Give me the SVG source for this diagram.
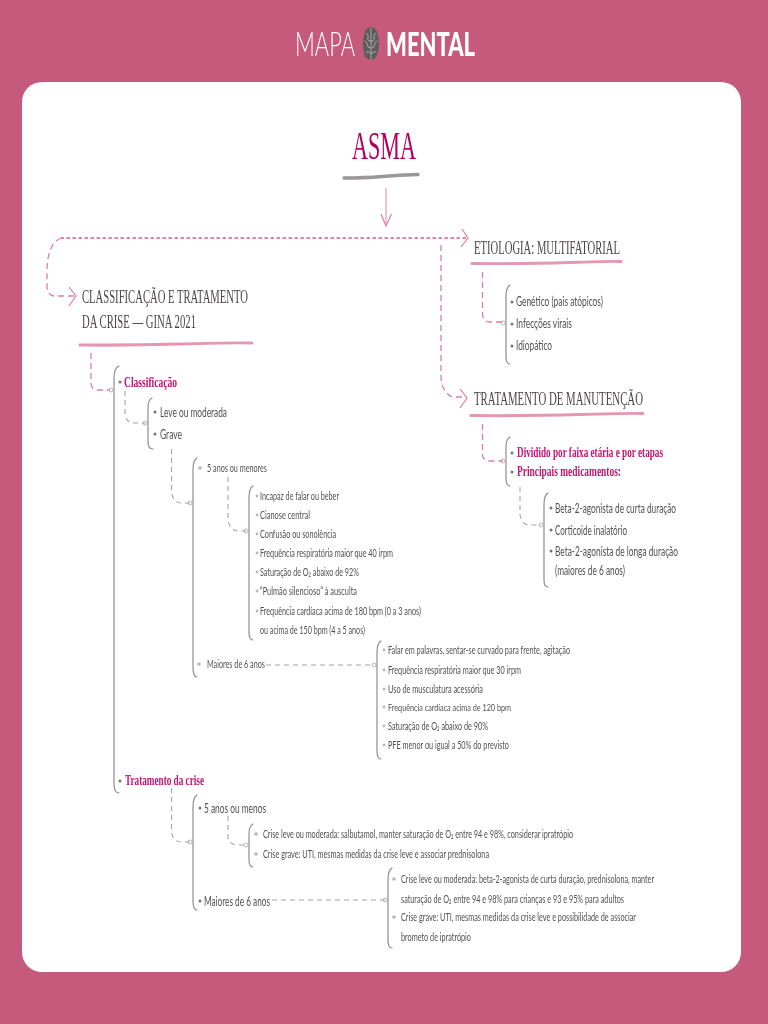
<svg xmlns="http://www.w3.org/2000/svg" width="768" height="1024" viewBox="0 0 768 1024">
<style>
.h{font-family:"Liberation Serif","DejaVu Serif",serif;font-size:19.5px;fill:#4a4646}
.t{font-family:Lato,"Liberation Sans",sans-serif;fill:#525050}
.m{font-size:13.5px}
.s{font-size:12px}
.p{font-family:"Liberation Serif","DejaVu Serif",serif;font-weight:bold;fill:#c4146f;font-size:15px}
.br{fill:none;stroke:#8f8c8d;stroke-width:1.2;stroke-linecap:round}
.kn{fill:none;stroke:#a8a5a6;stroke-width:.8}
.dg{fill:none;stroke:#a6a3a4;stroke-width:1.1;stroke-dasharray:5 4}
.dp{fill:none;stroke:#dc7f9f;stroke-width:1.3;stroke-dasharray:6 4}
.dt{fill:none;stroke:#d65f8b;stroke-width:1.7;stroke-dasharray:3.5 2.5}
.hd{fill:none;stroke:#dc7f9f;stroke-width:1.2;stroke-linejoin:miter}
.ul{fill:none;stroke:#e596b1;stroke-width:3;stroke-linecap:round}
.b{fill:#777375}
.o{fill:#b9b6b7}
</style>
<defs><filter id="soft" x="-5%" y="-5%" width="110%" height="110%"><feGaussianBlur stdDeviation="0.35"/></filter></defs>
<rect width="768" height="1024" fill="#c55a7c"/>
<rect x="22" y="82" width="719" height="890" rx="20" fill="#ffffff"/>
<g filter="url(#soft)">
<g id="logo">
<text x="295" y="56" font-family="Lato,'Liberation Sans',sans-serif" font-size="33" font-weight="300" fill="#fff" textLength="60" lengthAdjust="spacingAndGlyphs">MAPA</text>
<path d="M371 27Q377 28 378 35Q380 44 378 52Q376 60 371 60Q365 60 364 53Q362 44 364 35Q365 28 371 27Z" fill="#5f5b5d"/>
<path d="M371 28V60M366 33q3 2 2 5t3 3M376 33q-3 2-2 5t-3 3M364.500 41q3 1 3 4t3 3M377.500 41q-3 1-3 4t-3 3M366 52q3-1 5 2M376 52q-3-1-5 2" fill="none" stroke="#bdbabb" stroke-width=".8"/>
<text x="386" y="56" font-family="Lato,'Liberation Sans',sans-serif" font-size="33" font-weight="900" fill="#fff" textLength="89" lengthAdjust="spacingAndGlyphs">MENTAL</text>
</g>
<g id="asma">
<text x="352" y="158.500" font-family="'Liberation Serif',serif" font-size="41" fill="#b3005f" textLength="64" lengthAdjust="spacingAndGlyphs">ASMA</text>
<path d="M344 178Q365 178 382 176.500T418 174.500" fill="none" stroke="#9a9799" stroke-width="3.400" stroke-linecap="round"/>
</g>
<g id="connectors">
<path d="M386 188V225" fill="none" stroke="#e08aa8" stroke-width="1"/>
<path d="M381 214L386 226L391.500 214" class="hd"/>
<path d="M466 238H61" class="dt"/>
<path d="M61 238Q47 244 47 272V286Q47 295 54 296H75" class="dp"/>
<path d="M69 287L76 296L69 306" class="hd"/>
<path d="M462 229L468 238L461 247" class="hd"/>
<path d="M441 245V378Q442 392 452 397H466" class="dp"/>
<path d="M460 389L467 398L460 408" class="hd"/>
<path d="M91 353V384Q92 390 98 390H110" class="dp"/>
<path d="M482.500 272V314Q483 322 490 322H503" class="dp"/>
<path d="M482.500 424V455Q483 461 490 461H503" class="dp"/>
<path d="M520 487V515Q522 525 530 525H541" class="dg"/>
<path d="M125 391V415Q127 423 134 423H145" class="dg"/>
<path d="M171.500 449V492Q173 503 181 503H190" class="dg"/>
<path d="M228 477V520Q230 531 238 531H246" class="dg"/>
<path d="M266 665H374" class="dg"/>
<path d="M171.500 788V832Q173 842 181 842H190" class="dg"/>
<path d="M228 816V838Q230 845 238 845H246" class="dg"/>
<path d="M272 900H385" class="dg"/>
</g>
<g id="node-classificacao-tratamento">
<text class="h" x="82" y="302.500" textLength="166" lengthAdjust="spacingAndGlyphs">CLASSIFICAÇÃO E TRATAMENTO</text>
<text class="h" x="82" y="327.500" textLength="114" lengthAdjust="spacingAndGlyphs">DA CRISE — GINA 2021</text>
<path class="ul" d="M80 345Q130 345.500 180 344T252 343"/>
</g>
<g id="node-classificacao-grupo">
<path class="br" d="M119 366Q114 368 114 378V783Q114 793 119 793"/><circle class="kn" cx="111" cy="390" r="2"/>
<circle class="b" cx="120" cy="382" r="1.500"/>
<text class="p" x="124" y="387" textLength="53" lengthAdjust="spacingAndGlyphs">Classificação</text>
<circle class="b" cx="120" cy="781" r="1.500"/>
<text class="p" x="125" y="785" textLength="79" lengthAdjust="spacingAndGlyphs">Tratamento da crise</text>
</g>
<g id="node-gravidade">
<path class="br" d="M152 398Q148 400 148 408V442Q148 449 153 449"/><circle class="kn" cx="145" cy="423" r="2"/>
<circle class="b" cx="155" cy="412" r="1.500"/><circle class="b" cx="155" cy="434" r="1.500"/>
<text class="t m" x="160" y="417" textLength="67" lengthAdjust="spacingAndGlyphs">Leve ou moderada</text>
<text class="t m" x="160" y="439" textLength="22" lengthAdjust="spacingAndGlyphs">Grave</text>
</g>
<g id="node-idade-classificacao">
<path class="br" d="M197 458Q193 460 193 470V667Q193 677 197 677"/><circle class="kn" cx="190" cy="503" r="2"/>
<circle class="o" cx="200" cy="468" r="1.800"/><circle class="o" cx="199" cy="664" r="1.800"/>
<text class="t s" x="207" y="472" textLength="60" lengthAdjust="spacingAndGlyphs">5 anos ou menores</text>
<text class="t s" x="207" y="668" textLength="58" lengthAdjust="spacingAndGlyphs">Maiores de 6 anos</text>
</g>
<g id="node-sinais-menores">
<path class="br" d="M253 486Q249 488 249 498V632Q249 640 253 640"/><circle class="kn" cx="246" cy="531" r="2"/>
<g class="o"><circle cx="257" cy="496" r="1.400"/><circle cx="257" cy="515" r="1.400"/><circle cx="257" cy="534" r="1.400"/><circle cx="257" cy="553" r="1.400"/><circle cx="257" cy="572" r="1.400"/><circle cx="257" cy="591" r="1.400"/><circle cx="257" cy="611" r="1.400"/></g>
<text class="t s" x="260" y="500" textLength="79" lengthAdjust="spacingAndGlyphs">Incapaz de falar ou beber</text>
<text class="t s" x="260" y="519" textLength="50" lengthAdjust="spacingAndGlyphs">Cianose central</text>
<text class="t s" x="260" y="538" textLength="76" lengthAdjust="spacingAndGlyphs">Confusão ou sonolência</text>
<text class="t s" x="260" y="557" textLength="133" lengthAdjust="spacingAndGlyphs">Frequência respiratória maior que 40 irpm</text>
<text class="t s" x="260" y="576" textLength="99" lengthAdjust="spacingAndGlyphs">Saturação de O₂ abaixo de 92%</text>
<text class="t s" x="260" y="595" textLength="97" lengthAdjust="spacingAndGlyphs">“Pulmão silencioso” à ausculta</text>
<text class="t s" x="260" y="615" textLength="161" lengthAdjust="spacingAndGlyphs">Frequência cardíaca acima de 180 bpm (0 a 3 anos)</text>
<text class="t s" x="260" y="634" textLength="105" lengthAdjust="spacingAndGlyphs">ou acima de 150 bpm (4 a 5 anos)</text>
</g>
<g id="node-sinais-maiores">
<path class="br" d="M381 641Q377 643 377 653V751Q377 759 381 759"/><circle class="kn" cx="374" cy="665" r="2"/>
<g class="o"><circle cx="384" cy="650" r="1.400"/><circle cx="384" cy="670" r="1.400"/><circle cx="384" cy="689" r="1.400"/><circle cx="384" cy="707" r="1.400"/><circle cx="384" cy="726" r="1.400"/><circle cx="384" cy="745" r="1.400"/></g>
<text class="t s" transform="translate(388 654) scale(.72 1)" textLength="252.800" lengthAdjust="spacingAndGlyphs">Falar em palavras, sentar-se curvado para frente, agitação</text>
<text class="t s" x="388" y="674" textLength="133" lengthAdjust="spacingAndGlyphs">Frequência respiratória maior que 30 irpm</text>
<text class="t s" x="388" y="693" textLength="95" lengthAdjust="spacingAndGlyphs">Uso de musculatura acessória</text>
<text class="t" font-size="10" x="388" y="710.500" textLength="123" lengthAdjust="spacingAndGlyphs">Frequência cardíaca acima de 120 bpm</text>
<text class="t s" x="388" y="730" textLength="100" lengthAdjust="spacingAndGlyphs">Saturação de O₂ abaixo de 90%</text>
<text class="t s" x="388" y="749" textLength="121" lengthAdjust="spacingAndGlyphs">PFE menor ou igual a 50% do previsto</text>
</g>
<g id="node-tratamento-idade">
<path class="br" d="M197 795Q193 797 193 807V901Q193 910 197 910"/><circle class="kn" cx="190" cy="842" r="2"/>
<circle class="b" cx="200" cy="808" r="1.500"/><circle class="b" cx="200" cy="901" r="1.500"/>
<text class="t m" x="204" y="813" textLength="62" lengthAdjust="spacingAndGlyphs">5 anos ou menos</text>
<text class="t m" x="204" y="906" textLength="66" lengthAdjust="spacingAndGlyphs">Maiores de 6 anos</text>
</g>
<g id="node-tratamento-menores">
<path class="br" d="M253 824Q249 826 249 834V860Q249 867 253 867"/><circle class="kn" cx="246" cy="845" r="2"/>
<circle class="o" cx="256" cy="834" r="1.800"/><circle class="o" cx="256" cy="854" r="1.800"/>
<text class="t s" transform="translate(263 838) scale(.72 1)" textLength="430.600" lengthAdjust="spacingAndGlyphs">Crise leve ou moderada: salbutamol, manter saturação de O₂ entre 94 e 98%, considerar ipratrópio</text>
<text class="t s" transform="translate(263 858) scale(.72 1)" textLength="313.900" lengthAdjust="spacingAndGlyphs">Crise grave: UTI, mesmas medidas da crise leve e associar prednisolona</text>
</g>
<g id="node-tratamento-maiores">
<path class="br" d="M392 868Q388 870 388 880V940Q388 948 392 948"/><circle class="kn" cx="385" cy="900" r="2"/>
<circle class="o" cx="394" cy="879" r="1.800"/><circle class="o" cx="394" cy="917" r="1.800"/>
<text class="t s" transform="translate(401 883) scale(.72 1)" textLength="351.400" lengthAdjust="spacingAndGlyphs">Crise leve ou moderada: beta-2-agonista de curta duração, prednisolona, manter</text>
<text class="t s" transform="translate(401 903) scale(.72 1)" textLength="309.700" lengthAdjust="spacingAndGlyphs">saturação de O₂ entre 94 e 98% para crianças e 93 e 95% para adultos</text>
<text class="t s" transform="translate(401 921) scale(.72 1)" textLength="326.400" lengthAdjust="spacingAndGlyphs">Crise grave: UTI, mesmas medidas da crise leve e possibilidade de associar</text>
<text class="t s" x="401" y="941" textLength="70" lengthAdjust="spacingAndGlyphs">brometo de ipratrópio</text>
</g>
<g id="node-etiologia">
<text class="h" x="474" y="253.500" textLength="146" lengthAdjust="spacingAndGlyphs">ETIOLOGIA: MULTIFATORIAL</text>
<path class="ul" d="M472 263.500Q530 264 570 262.500T621 261.500"/>
<path class="br" d="M510 285Q506 287 506 297V356Q506 364 510 364"/><circle class="kn" cx="503" cy="323" r="2"/>
<g class="b"><circle cx="512" cy="302" r="1.500"/><circle cx="512" cy="324" r="1.500"/><circle cx="512" cy="346" r="1.500"/></g>
<text class="t m" x="516" y="306" textLength="87" lengthAdjust="spacingAndGlyphs">Genético (pais atópicos)</text>
<text class="t m" x="516" y="328" textLength="56" lengthAdjust="spacingAndGlyphs">Infecções virais</text>
<text class="t m" x="516" y="350" textLength="36" lengthAdjust="spacingAndGlyphs">Idiopático</text>
</g>
<g id="node-manutencao">
<text class="h" transform="translate(474 405) scale(.72 1)" textLength="234.700" lengthAdjust="spacingAndGlyphs">TRATAMENTO DE MANUTENÇÃO</text>
<path class="ul" d="M471 415.500Q530 416 580 414.500T643 413.500"/>
<path class="br" d="M510 437Q506 439 506 447V478Q506 486 510 486"/><circle class="kn" cx="503" cy="461" r="2"/>
<circle class="b" cx="512" cy="453" r="1.500"/><circle class="b" cx="512" cy="472" r="1.500"/>
<text class="p" x="517" y="457" textLength="146" lengthAdjust="spacingAndGlyphs">Dividido por faixa etária e por etapas</text>
<text class="p" x="517" y="476" textLength="104" lengthAdjust="spacingAndGlyphs">Principais medicamentos:</text>
</g>
<g id="node-medicamentos">
<path class="br" d="M548 493Q544 495 544 505V580Q544 587 548 587"/><circle class="kn" cx="541" cy="525" r="2"/>
<g class="b"><circle cx="551" cy="508" r="1.500"/><circle cx="551" cy="530" r="1.500"/><circle cx="551" cy="551" r="1.500"/></g>
<text class="t m" x="555" y="513" textLength="121" lengthAdjust="spacingAndGlyphs">Beta-2-agonista de curta duração</text>
<text class="t m" x="555" y="535" textLength="72" lengthAdjust="spacingAndGlyphs">Corticoide inalatório</text>
<text class="t m" x="555" y="556" textLength="123" lengthAdjust="spacingAndGlyphs">Beta-2-agonista de longa duração</text>
<text class="t m" x="555" y="575" textLength="70" lengthAdjust="spacingAndGlyphs">(maiores de 6 anos)</text>
</g>
</g>
</svg>
